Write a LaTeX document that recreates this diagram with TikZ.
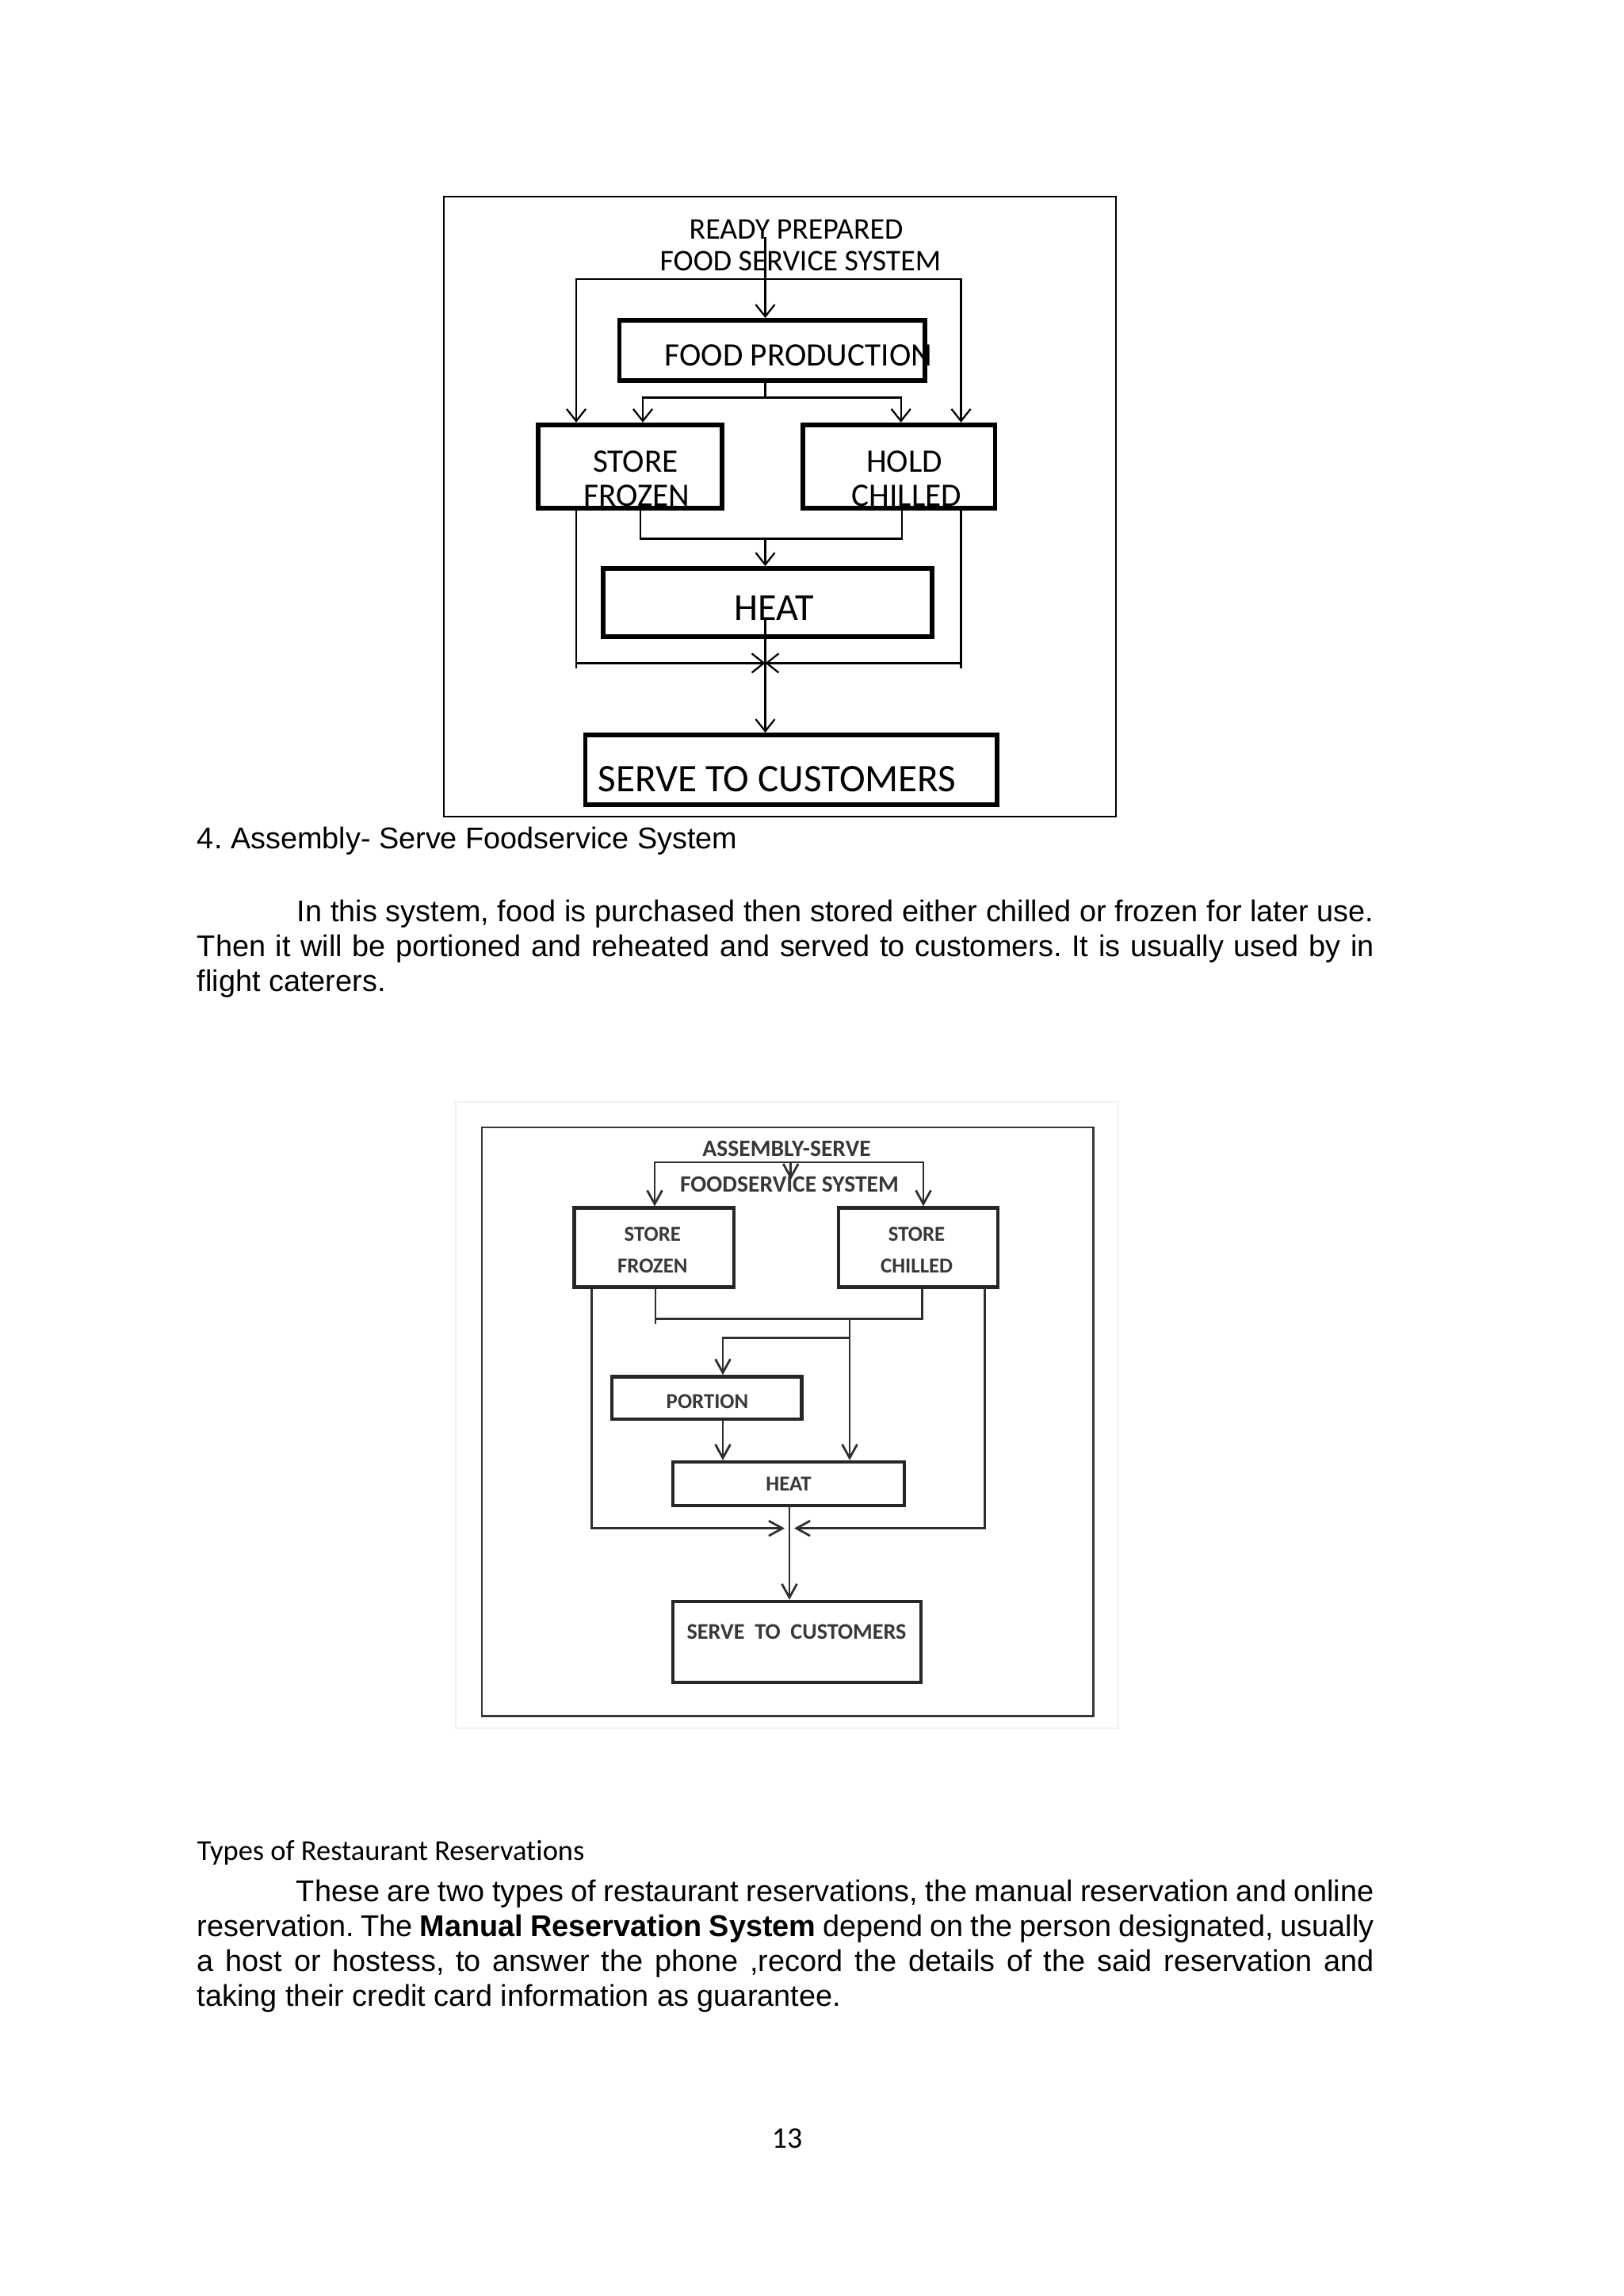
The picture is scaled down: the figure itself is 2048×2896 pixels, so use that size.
\documentclass[tikz,border=0pt]{standalone}
\usepackage{fontspec}
\setmainfont{Liberation Sans}
\newfontfamily\calfont[Ligatures=NoCommon]{Carlito}
\usetikzlibrary{arrows.meta}
\frenchspacing
\begin{document}
\begin{tikzpicture}[x=0.29066pt,y=-0.29066pt,
  lineA/.style={line width=0.65pt,black},
  arA/.style={lineA,-{Straight Barb[length=4.4pt,width=7pt,line width=0.65pt]}},
  arAA/.style={lineA,{Straight Barb[length=4.4pt,width=7pt,line width=0.65pt]}-{Straight Barb[length=4.4pt,width=7pt,line width=0.65pt]}},
  boxA/.style={draw,line width=1.7pt,rectangle,inner sep=0pt},
  txA/.style={anchor=base,inner sep=0pt,font=\calfont\fontsize{12pt}{12pt}\selectfont},
  lineB/.style={line width=0.8pt,black!82},
  arB/.style={lineB,-{Straight Barb[length=5pt,width=5.5pt,line width=0.8pt]}},
  arBB/.style={lineB,{Straight Barb[length=5pt,width=5.5pt,line width=0.8pt]}-{Straight Barb[length=5pt,width=5.5pt,line width=0.8pt]}},
  boxB/.style={draw=black!85,line width=1.25pt,rectangle,inner sep=0pt},
  txB/.style={anchor=base,inner sep=0pt,text=black!78,font=\calfont\bfseries\fontsize{7.8pt}{7.8pt}\selectfont},
  body/.style={anchor=base west,inner sep=0pt,font=\fontsize{11pt}{12.9pt}\selectfont},
]
\useasboundingbox (0,0) rectangle (2048,2896);
\fill[white] (0,0) rectangle (2048,2896);

% ================= Diagram 1 =================
\node[draw,line width=0.6pt,rectangle,inner sep=0pt,minimum width={848*0.29066pt},minimum height={782*0.29066pt}] (frame1) at (984,639) {};

\node[txA,font=\calfont\fontsize{11pt}{11pt}\selectfont] (t1a) at (1004.5,301.5) {READY PREPARED};
\node[txA,font=\calfont\fontsize{11pt}{11pt}\selectfont] (t1b) at (1010,341.5) {FOOD SERVICE SYSTEM};

\node[boxA,minimum width={385.9*0.29066pt},minimum height={76*0.29066pt}] (fp) at (974.45,442) {};
\node[boxA,minimum width={231.4*0.29066pt},minimum height={105.5*0.29066pt}] (sf) at (795.1,588.5) {};
\node[boxA,minimum width={242.5*0.29066pt},minimum height={105.5*0.29066pt}] (hc) at (1134.25,588.5) {};
\node[boxA,minimum width={414.9*0.29066pt},minimum height={86*0.29066pt}] (heat) at (968.25,760) {};
\node[boxA,minimum width={519.5*0.29066pt},minimum height={88*0.29066pt}] (serve) at (998.25,971) {};

\node[txA] (fpt) at (1007.5,461.5) {FOOD PRODUCTION};
\node[txA] (sft1) at (802,595.4) {STORE};
\node[txA] (sft2) at (803.8,638) {FROZEN};
\node[txA] (hct1) at (1141,595.4) {HOLD};
\node[txA] (hct2) at (1144,638) {CHILLED};
\node[txA,font=\calfont\fontsize{14pt}{14pt}\selectfont] (heatt) at (976.6,782.5) {HEAT};
\node[txA,font=\calfont\fontsize{14.3pt}{14.3pt}\selectfont] (servet) at (980.6,998) {SERVE TO CUSTOMERS};

% connectors diagram 1
\coordinate (c1) at (965.5,299);
\draw[arA] (c1) -- (c1 |- fp.north);
\coordinate (lt) at (727,351.8);
\coordinate (rt) at (1212.5,351.8);
\draw[arAA] (lt |- sf.north) -- (lt) -- (rt) -- (rt |- hc.north);
\coordinate (j1) at (965.5,501.5);
\coordinate (j1l) at (811,501.5);
\coordinate (j1r) at (1136.7,501.5);
\draw[lineA] (j1 |- fp.south) -- (j1);
\draw[arAA] (j1l |- sf.north) -- (j1l) -- (j1r) -- (j1r |- hc.north);
\coordinate (j2) at (965.5,679.5);
\coordinate (j2l) at (807.7,679.5);
\coordinate (j2r) at (1138,679.5);
\draw[lineA] (j2l |- sf.south) -- (j2l) -- (j2r) -- (j2r |- hc.south);
\draw[arA] (j2) -- (j2 |- heat.north);
\coordinate (olb) at (727,842.5);
\coordinate (orb) at (1212.5,842.5);
\coordinate (ol) at (727,836.4);
\coordinate (or) at (1212.5,836.4);
\coordinate (oc) at (965.5,836.4);
\draw[lineA] (olb |- sf.south) -- (olb);
\draw[lineA] (orb |- hc.south) -- (orb);
\draw[arA] (ol) -- (oc);
\draw[arA] (or) -- (oc);
\coordinate (h1) at (965.5,781);
\draw[arA] (h1) -- (h1 |- serve.north);

% ================= Body text 1 =================
\node[body] (head4) at (248.3,1070.7) {4. Assembly- Serve Foodservice System};
\node[body] (p1a) at (374,1162) {\makebox[395pt][s]{In this system, food is purchased then stored either chilled or frozen for later use.}};
\node[body] (p1b) at (248.3,1206) {\makebox[431.6pt][s]{Then it will be portioned and reheated and served to customers. It is usually used by in}};
\node[body] (p1c) at (248.3,1250) {flight caterers.};

% ================= Diagram 2 =================
\node[draw=black!6,line width=0.8pt,rectangle,inner sep=0pt,minimum width={836*0.29066pt},minimum height={790*0.29066pt}] (img2) at (993,1785) {};
\node[draw=black!78,line width=0.8pt,rectangle,inner sep=0pt,minimum width={771.7*0.29066pt},minimum height={742.6*0.29066pt}] (frame2) at (993.85,1793.3) {};

\node[txB,font=\calfont\bfseries\fontsize{8.6pt}{8.6pt}\selectfont] (t2a) at (992.5,1458) {ASSEMBLY-SERVE};
\node[txB,font=\calfont\bfseries\fontsize{8.6pt}{8.6pt}\selectfont] (t2b) at (996,1503) {FOODSERVICE SYSTEM};

\node[boxB,minimum width={201.5*0.29066pt},minimum height={100*0.29066pt}] (sf2) at (825.15,1573.6) {};
\node[boxB,minimum width={201.3*0.29066pt},minimum height={100*0.29066pt}] (sc2) at (1158.35,1573.6) {};
\node[boxB,minimum width={239.5*0.29066pt},minimum height={53.6*0.29066pt}] (por) at (891.75,1763.2) {};
\node[boxB,minimum width={292*0.29066pt},minimum height={55*0.29066pt}] (heat2) at (995,1871.5) {};
\node[boxB,minimum width={313*0.29066pt},minimum height={102*0.29066pt}] (serve2) at (1005.4,2071) {};

\node[txB] (sf2t1) at (823.3,1565.6) {STORE};
\node[txB] (sf2t2) at (823.3,1605.6) {FROZEN};
\node[txB] (sc2t1) at (1156.6,1565.6) {STORE};
\node[txB] (sc2t2) at (1156.6,1605.6) {CHILLED};
\node[txB] (port) at (892.5,1776) {PORTION};
\node[txB] (heat2t) at (995,1880) {HEAT};
\node[txB,font=\calfont\bfseries\fontsize{8.2pt}{8.2pt}\selectfont] (serve2t) at (1005,2067) {SERVE\ \ TO\ \ CUSTOMERS};

% connectors diagram 2
\coordinate (k0l) at (826,1466);
\coordinate (k0r) at (1165,1466);
\coordinate (k0c) at (997.7,1466);
\draw[arBB] (k0l |- sf2.north) -- (k0l) -- (k0r) -- (k0r |- sc2.north);
\draw[arB] (k0c) -- (997.7,1488) coordinate (k0d);
\coordinate (k1l) at (827,1663.6);
\coordinate (k1lb) at (827,1669.7);
\coordinate (k1r) at (1163.3,1663.6);
\coordinate (k1c) at (1072,1663.6);
\draw[lineB] (k1lb |- sf2.south) -- (k1lb);
\draw[lineB] (k1l) -- (k1r) -- (k1r |- sc2.south);
\draw[arB] (k1c) -- (k1c |- heat2.north);
\coordinate (k2r) at (1072,1687.7);
\coordinate (k2l) at (912,1687.7);
\draw[arB] (k2r) -- (k2l) -- (k2l |- por.north);
\draw[arB] (k2l |- por.south) -- (k2l |- heat2.north);
\coordinate (k3l) at (746.4,1927.7);
\coordinate (k3r) at (1242.3,1927.7);
\coordinate (k3cl) at (990,1927.7);
\coordinate (k3cr) at (1002,1927.7);
\draw[arB] (k3l |- sf2.south) -- (k3l) -- (k3cl);
\draw[arB] (k3r |- sc2.south) -- (k3r) -- (k3cr);
\coordinate (k4) at (996,1900);
\draw[arB] (k4 |- heat2.south) -- (k4 |- serve2.north);

% ================= Body text 2 =================
\node[anchor=base west,inner sep=0pt,font=\calfont\fontsize{10.6pt}{10.6pt}\selectfont] (types) at (248.3,2346.7) {Types of Restaurant Reservations};
\node[body] (p2a) at (373.3,2398) {\makebox[395.2pt][s]{These are two types of restaurant reservations, the manual reservation and online}};
\node[body] (p2b) at (248.3,2442) {\makebox[431.6pt][s]{reservation. The \textbf{Manual Reservation System} depend on the person designated, usually}};
\node[body] (p2c) at (248.3,2486) {\makebox[431.6pt][s]{a host or hostess, to answer the phone ,record the details of the said reservation and}};
\node[body] (p2d) at (248.3,2530) {taking their credit card information as guarantee.};

\node[anchor=base,inner sep=0pt,font=\calfont\fontsize{11pt}{11pt}\selectfont] (pageno) at (993,2709) {13};
\end{tikzpicture}
\end{document}
